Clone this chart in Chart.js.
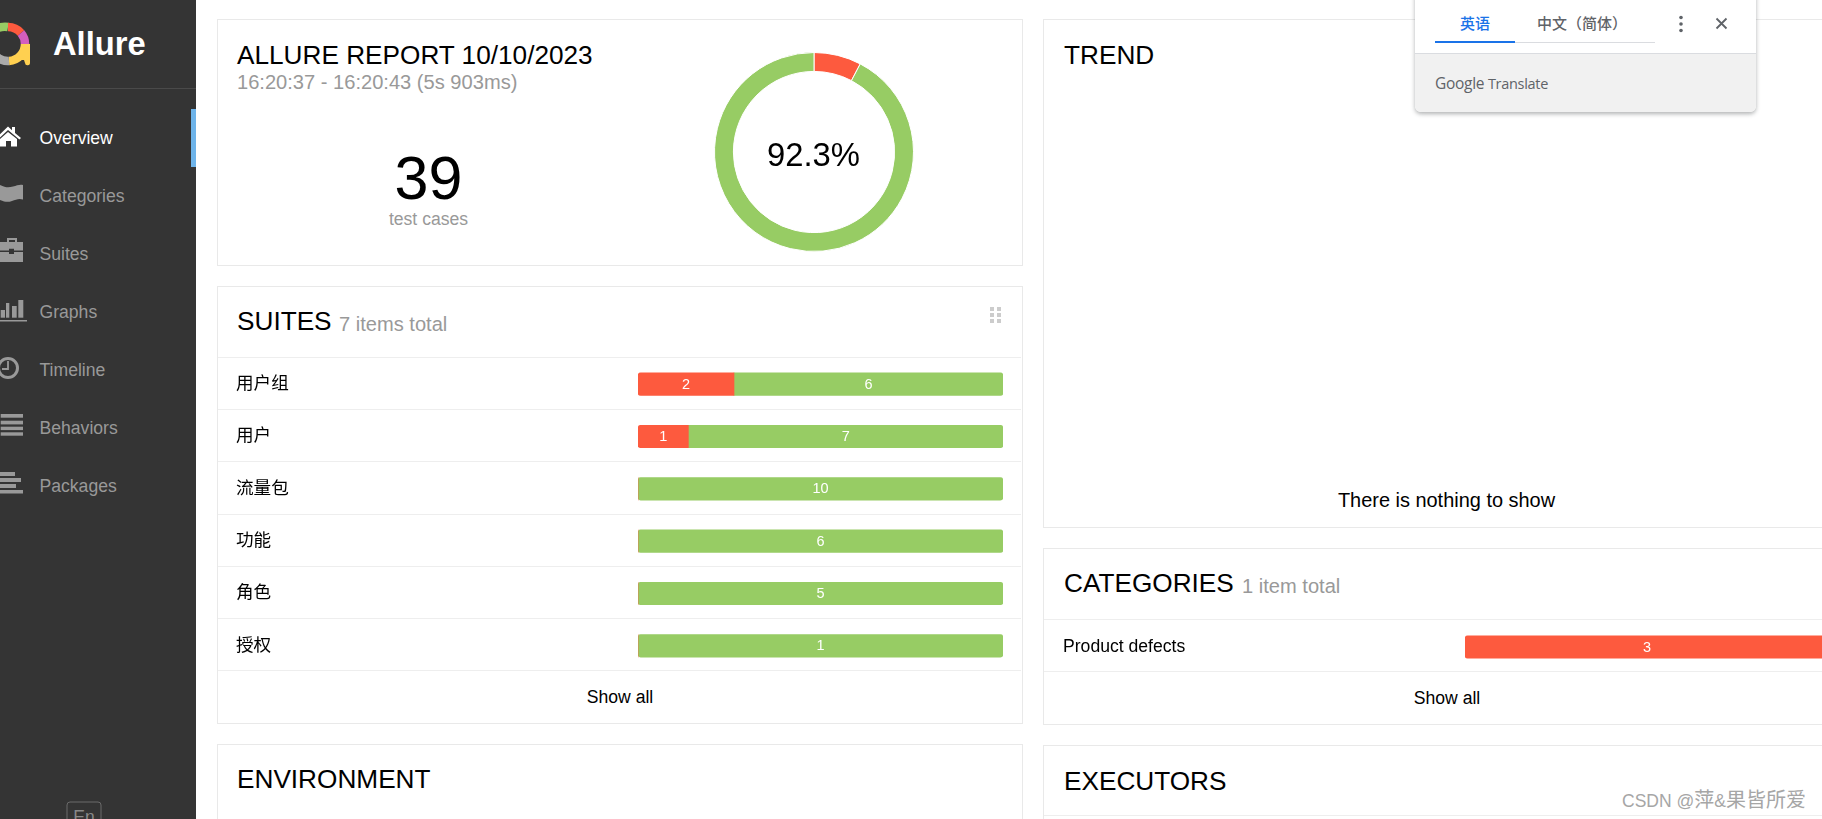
<!DOCTYPE html>
<html lang="zh">
<head>
<meta charset="utf-8">
<title>Allure Report</title>
<script src="https://cdn.jsdelivr.net/npm/chart.js@4"></script>
<style>
html,body{margin:0;padding:0;width:1822px;height:819px;overflow:hidden;background:#fff;font-family:"Liberation Sans","Noto Sans CJK SC",sans-serif;color:#000}
*{box-sizing:border-box}
.t{position:absolute;white-space:nowrap;transform:translateY(-50%);line-height:1.2}
.c{transform:translate(-50%,-50%)}
.card{position:absolute;background:#fff;border:1.5px solid #e9e9e9}
.hr{position:absolute;height:1px;background:#eeeeee}
.h{font-size:26.2px}
.sub{font-size:20.1px;color:#999}
.body{font-size:17.6px}
#side{position:absolute;left:0;top:0;width:196px;height:819px;background:#343434;overflow:hidden}
.nav{position:absolute;left:39.5px;font-size:17.6px;color:#999;white-space:nowrap;transform:translateY(-50%)}
canvas{position:absolute;display:block}
svg{position:absolute;left:0;top:0}
#popup{position:absolute;left:1415px;top:-6px;width:341px;height:118px;background:#fff;border-radius:0 0 6px 6px;box-shadow:0 2px 4px rgba(60,64,67,.4);overflow:hidden}
</style>
</head>
<body>
<div class="card" style="left:216.5px;top:19px;width:806px;height:247px"></div>
<div class="card" style="left:216.5px;top:286px;width:806px;height:438px"></div>
<div class="card" style="left:216.5px;top:744px;width:806px;height:120px"></div>
<div class="card" style="left:1043px;top:19px;width:805px;height:509px"></div>
<div class="card" style="left:1043px;top:548px;width:805px;height:177px"></div>
<div class="card" style="left:1043px;top:745px;width:805px;height:120px"></div>

<div class="hr" style="left:218px;top:357px;width:803px"></div>
<div class="hr" style="left:218px;top:409px;width:803px"></div>
<div class="hr" style="left:218px;top:461px;width:803px"></div>
<div class="hr" style="left:218px;top:514px;width:803px"></div>
<div class="hr" style="left:218px;top:566px;width:803px"></div>
<div class="hr" style="left:218px;top:618px;width:803px"></div>
<div class="hr" style="left:218px;top:670px;width:803px"></div>
<div class="hr" style="left:1044px;top:619px;width:803px"></div>
<div class="hr" style="left:1044px;top:671px;width:803px"></div>
<div class="hr" style="left:1044px;top:815px;width:803px"></div>

<div class="t h" style="left:237px;top:55.5px">ALLURE REPORT 10/10/2023</div>
<div class="t sub" style="left:237px;top:82px">16:20:37 - 16:20:43 (5s 903ms)</div>
<div class="t c" style="left:428.5px;top:179px;font-size:61px">39</div>
<div class="t c body" style="left:428.5px;top:220px;color:#999">test cases</div>
<canvas id="donut" width="200" height="200" style="left:713.5px;top:52px;width:200px;height:200px"></canvas>
<div class="t c" style="left:813.5px;top:155px;font-size:32.8px">92.3%</div>

<div class="t h" style="left:237px;top:322px">SUITES</div>
<div class="t sub" style="left:339px;top:324px">7 items total</div>
<svg width="1030" height="340" style="pointer-events:none"><g fill="#cccccc"><rect x="990" y="307" width="4" height="4"/><rect x="997" y="307" width="4" height="4"/><rect x="990" y="313" width="4" height="4"/><rect x="997" y="313" width="4" height="4"/><rect x="990" y="319" width="4" height="4"/><rect x="997" y="319" width="4" height="4"/></g></svg>
<canvas id="suites" width="806" height="314" style="left:217px;top:358px;width:806px;height:314px"></canvas>
<div class="t c body" style="left:620px;top:698px">Show all</div>
<div class="t h" style="left:237px;top:780px">ENVIRONMENT</div>

<div class="t h" style="left:1064px;top:55.5px">TREND</div>
<div class="t c" style="left:1446.5px;top:500.5px;font-size:19.95px">There is nothing to show</div>
<div class="t h" style="left:1064px;top:584px">CATEGORIES</div>
<div class="t sub" style="left:1242px;top:586px">1 item total</div>
<canvas id="categories" width="805" height="52" style="left:1044px;top:620.5px;width:805px;height:52px"></canvas>
<div class="t c body" style="left:1447px;top:699px">Show all</div>
<div class="t h" style="left:1064px;top:782px">EXECUTORS</div>
<div class="t" style="left:1622px;top:800px;font-size:17.5px;color:#a6a6a6">CSDN @<span style="font-size:20px">萍</span>&amp;<span style="font-size:20px">果皆所爱</span></div>

<div id="side">
  <svg width="196" height="819">
    <g fill="none" stroke-width="8.5">
      <path d="M-8.5 33.5A17 17 0 0 1 8 27" stroke="#97cc64"/>
      <path d="M8 27A17 17 0 0 1 21 33" stroke="#fd5a3e"/>
      <path d="M21 33A17 17 0 0 1 25 44" stroke="#d35ebe"/>
      <path d="M25 44A17 17 0 0 1 9 61" stroke="#ffd050"/>
      <path d="M9 61A17 17 0 0 1 -8 50" stroke="#aaaaaa"/>
    </g>
    <path d="M21 44h9v18.5a2.5 2.500 0 0 1-5 .5l-1-3h-3z" fill="#ffd050"/>
    <rect x="0" y="88" width="196" height="1" fill="#4a4a4a"/>
    <rect x="191" y="109" width="5" height="58" fill="#6eb4ea"/>
    <g fill="#ffffff">
      <path d="M-3 137L8 126.500l4 3.700V127h3v6l6 5-1.600 1.600L8 130 -1.500 139z"/>
      <path d="M0 139L8 132l9 7v7.500h-6V141H6v5.500H0z"/>
    </g>
    <g fill="#999999">
      <path d="M0 185c6 3 9 2.600 13 1.500s7-2.500 10-1.500v14.500c-4-1.500-7 0-11 1.500s-7 1-12-1z"/>
      <path d="M0 242h7v-4h10v4h6v8.500h-9v-1.700H9v1.700H0zM9 240v2h6v-2zM0 252h9v2h5v-2h9v10H0z"/>
      <rect x="0.700" y="310" width="4.300" height="7.700"/><rect x="6" y="303" width="3.300" height="14.700"/>
      <rect x="12" y="306" width="4.700" height="11.700"/><rect x="18.300" y="300" width="5" height="17.700"/>
      <rect x="0" y="320" width="27" height="1.500"/>
      <rect x="0.700" y="414" width="22.300" height="3.700"/><rect x="0.700" y="420.700" width="22.300" height="3.700"/>
      <rect x="0.700" y="426.700" width="22.300" height="3.400"/><rect x="0.700" y="432.300" width="22.300" height="3.400"/>
      <rect x="0" y="472" width="15" height="4"/><rect x="0" y="478" width="21" height="4"/>
      <rect x="0" y="484" width="16" height="4"/><rect x="0" y="490" width="23" height="3.500"/>
    </g>
    <circle cx="8" cy="368" r="9.500" fill="none" stroke="#999999" stroke-width="3"/>
    <path d="M8 361v8H2" fill="none" stroke="#999999" stroke-width="1.800"/>
    <rect x="67" y="802" width="34" height="30" rx="3" fill="none" stroke="#6a6a6a"/>
  </svg>
  <div class="t" style="left:53px;top:43.5px;font-size:32.7px;font-weight:700;color:#fff">Allure</div>
  <div class="nav" style="top:138px;color:#fff">Overview</div>
  <div class="nav" style="top:196px">Categories</div>
  <div class="nav" style="top:254px">Suites</div>
  <div class="nav" style="top:312px">Graphs</div>
  <div class="nav" style="top:370px">Timeline</div>
  <div class="nav" style="top:428px">Behaviors</div>
  <div class="nav" style="top:486px">Packages</div>
  <div class="t c" style="left:84px;top:818px;font-size:17.6px;color:#888">En</div>
</div>

<div id="popup">
  <div style="position:absolute;left:0;top:59px;width:341px;height:59px;background:#f1f1f1;border-top:1.5px solid #dadce0"></div>
  <div style="position:absolute;left:20px;top:48px;width:220px;height:1px;background:#dadce0"></div>
  <div style="position:absolute;left:20px;top:47px;width:80px;height:2px;background:#1a73e8"></div>
  <div class="t c" style="left:60px;top:29px;font-size:15px;font-weight:500;color:#1a73e8;font-family:'Noto Sans CJK SC'">英语</div>
  <div class="t c" style="left:167px;top:29px;font-size:15px;font-weight:500;color:#5f6368;font-family:'Noto Sans CJK SC'">中文（简体）</div>
  <svg width="341" height="60"><g fill="#5f6368"><circle cx="266" cy="23.500" r="1.800"/><circle cx="266" cy="30" r="1.800"/><circle cx="266" cy="36.500" r="1.800"/></g><path d="M301.500 24.500l10 10M311.500 24.500l-10 10" stroke="#5f6368" stroke-width="1.800" fill="none"/></svg>
  <div class="t" style="left:20px;top:89px;font-family:'Open Sans';font-size:15.5px;color:#5f6368;letter-spacing:-.3px">Google <span style="font-size:14.5px">Translate</span></div>
</div>

<script>
const FAILED_COLOR = '#fd5a3e';
const PASSED_COLOR = '#97cc64';

const suiteNames = ['用户组', '用户', '流量包', '功能', '角色', '授权'];
const suiteFailed = [2, 1, 0, 0, 0, 0];
const suitePassed = [6, 7, 10, 6, 5, 1];

const categoryNames = ['Product defects'];
const categoryFailed = [3];
const categoryPassed = [0];

const donutLabels = ['failed', 'passed'];
const donutValues = [3, 36];

const FONT = '"Liberation Sans","Noto Sans CJK SC",sans-serif';
// the report gives a failed segment a little padding on top of its share
const segPadding = 0.013;

const barValueLabels = {
  id: 'barValueLabels',
  afterDatasetsDraw(chart) {
    const { ctx } = chart;
    ctx.save();
    ctx.fillStyle = '#fff';
    ctx.font = '14.5px ' + FONT;
    ctx.textAlign = 'center';
    ctx.textBaseline = 'middle';
    chart.data.datasets.forEach((ds, i) => {
      chart.getDatasetMeta(i).data.forEach((el, j) => {
        const n = ds.counts[j];
        if (n > 0) ctx.fillText(String(n), (el.x + el.base) / 2, el.y + 0.5);
      });
    });
    ctx.restore();
  }
};

function statusBars(id, names, failed, passed, axisWidth, rightPad) {
  const totals = names.map((_, i) => failed[i] + passed[i]);
  const failShare = failed.map((f, i) => (f / totals[i]) + (f > 0 && passed[i] > 0 ? segPadding : 0));
  const passShare = failShare.map((s, i) => passed[i] > 0 ? 1 - s : 0);
  const R = 3;
  return new Chart(document.getElementById(id), {
    type: 'bar',
    plugins: [barValueLabels],
    data: {
      labels: names,
      datasets: [
        { counts: failed, data: failShare, backgroundColor: FAILED_COLOR, barThickness: 22.5, borderSkipped: false,
          borderRadius: c => ({ topLeft: R, bottomLeft: R,
            topRight: passed[c.dataIndex] > 0 ? 0 : R, bottomRight: passed[c.dataIndex] > 0 ? 0 : R }) },
        { counts: passed, data: passShare, backgroundColor: PASSED_COLOR, barThickness: 22.5, borderSkipped: false,
          borderRadius: c => ({ topRight: R, bottomRight: R,
            topLeft: failed[c.dataIndex] > 0 ? 0 : R, bottomLeft: failed[c.dataIndex] > 0 ? 0 : R }) }
      ]
    },
    options: {
      indexAxis: 'y',
      responsive: false,
      animation: false,
      layout: { padding: { left: 19, right: rightPad, top: 0, bottom: 0 } },
      plugins: { legend: { display: false }, tooltip: { enabled: false } },
      scales: {
        x: { display: false, stacked: true, min: 0, max: 1 },
        y: {
          stacked: true,
          afterFit(s) { s.width = axisWidth; s.paddingTop = 0; s.paddingBottom = 0; },
          grid: { display: false, drawTicks: false },
          border: { display: false },
          ticks: { crossAlign: 'far', padding: 0, color: '#000', font: { size: 17.6, family: FONT } }
        }
      }
    }
  });
}

statusBars('suites', suiteNames, suiteFailed, suitePassed, 402, 20);
statusBars('categories', categoryNames, categoryFailed, categoryPassed, 402, 20);

new Chart(document.getElementById('donut'), {
  type: 'doughnut',
  data: {
    labels: donutLabels,
    datasets: [{ data: donutValues, backgroundColor: [FAILED_COLOR, PASSED_COLOR], borderColor: '#fff', borderWidth: 1 }]
  },
  options: {
    responsive: false,
    animation: false,
    cutout: '81%',
    plugins: { legend: { display: false }, tooltip: { enabled: false } }
  }
});
</script>
</body>
</html>
